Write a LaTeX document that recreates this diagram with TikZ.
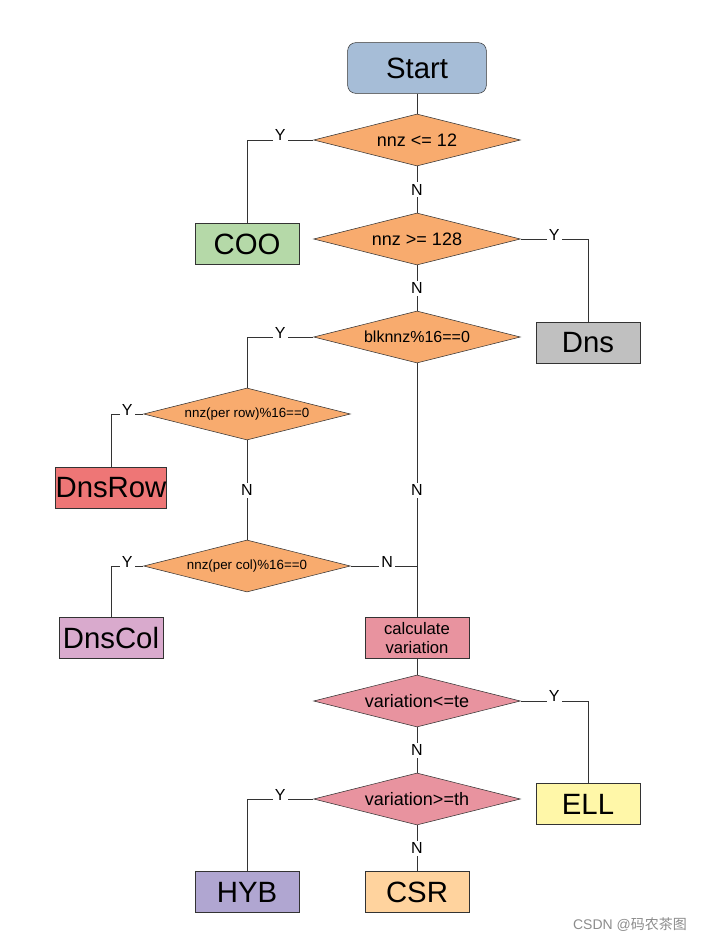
\documentclass[tikz,border=0pt]{standalone}
\usepackage{fontspec}
\setmainfont{Liberation Sans}
\newfontfamily\cjkfont{Noto Sans CJK SC}
\usetikzlibrary{shapes.geometric}
\definecolor{startblue}{HTML}{A6BDD7}
\definecolor{decorange}{HTML}{F8AB6E}
\definecolor{decpink}{HTML}{E8939F}
\definecolor{coogreen}{HTML}{B5D9A8}
\definecolor{dnsgray}{HTML}{C0C0C0}
\definecolor{rowred}{HTML}{EE7676}
\definecolor{colviolet}{HTML}{D9AACD}
\definecolor{ellyellow}{HTML}{FFF7A8}
\definecolor{hybpurple}{HTML}{B0A6D1}
\definecolor{csrpeach}{HTML}{FFD39E}
\tikzset{
	decision/.style = {diamond, draw=black!80, inner sep=0pt, aspect=4, minimum width=155pt, minimum height=39pt, font=\fontsize{13.5}{15}\selectfont},
	smalldec/.style = {decision, font=\fontsize{10}{12}\selectfont},
	format/.style = {rectangle, draw=black!80, minimum width=78pt, minimum height=31pt, inner sep=0pt, font=\fontsize{22}{24}\selectfont},
	process/.style = {format, align=center, font=\fontsize{12.5}{14}\selectfont},
	answer/.style = {fill=white, inner sep=1.5pt, font=\fontsize{12}{14}\selectfont},
	link/.style = {draw=black!80, line width=0.6pt}
}
\begin{document}
\begin{tikzpicture}[x=0.75pt, y=-0.75pt]
	\useasboundingbox (0,0) rectangle (714,943);
	% boxes and decisions
	\node [format, rounded corners=6pt, fill=startblue, minimum width=104pt, minimum height=38pt] (start) at (417,68) {Start};
	\node [decision, fill=decorange] (few) at (417,140) {nnz <= 12};
	\node [format, fill=coogreen] (coo) at (247,244) {COO};
	\node [decision, fill=decorange] (many) at (417,239) {nnz >= 128};
	\node [format, fill=dnsgray] (dns) at (588,343) {Dns};
	\node [decision, fill=decorange, font=\fontsize{12}{14}\selectfont] (blk) at (417,337) {blknnz\%16==0};
	\node [smalldec, fill=decorange] (row) at (247,414) {nnz(per row)\%16==0};
	\node [format, fill=rowred] (dnsrow) at (111,488) {DnsRow};
	\node [smalldec, fill=decorange] (col) at (247,566) {nnz(per col)\%16==0};
	\node [format, fill=colviolet] (dnscol) at (111,638) {DnsCol};
	\node [process, fill=decpink] (calc) at (417,638) {calculate\\variation};
	\node [decision, fill=decpink] (te) at (417,701) {variation<=te};
	\node [format, fill=ellyellow] (ell) at (588,804) {ELL};
	\node [decision, fill=decpink] (th) at (417,799) {variation>=th};
	\node [format, fill=hybpurple] (hyb) at (247,892) {HYB};
	\node [format, fill=csrpeach] (csr) at (417,892) {CSR};
	\coordinate (join) at (417,566);
	% connectors
	\draw [link] (start) -- (few);
	\draw [link] (few.west) -| (coo.north) node [answer, pos=0.25, yshift=4pt] {Y};
	\draw [link] (few) -- (many) node [answer, midway] {N};
	\draw [link] (many.east) -| (dns.north) node [answer, pos=0.25, yshift=3pt] {Y};
	\draw [link] (many) -- (blk) node [answer, midway] {N};
	\draw [link] (blk.west) -| (row.north) node [answer, pos=0.25, yshift=3pt] {Y};
	\draw [link] (row.west) -| (dnsrow.north) node [answer, pos=0.25, yshift=3pt] {Y};
	\draw [link] (row) -- (col) node [answer, midway] {N};
	\draw [link] (blk) -- (calc) node [answer, pos=0.5] {N};
	\draw [link] (col.east) -- (join) node [answer, pos=0.55, yshift=3pt] {N};
	\draw [link] (col.west) -| (dnscol.north) node [answer, pos=0.25, yshift=3pt] {Y};
	\draw [link] (calc) -- (te);
	\draw [link] (te.east) -| (ell.north) node [answer, pos=0.25, yshift=4pt] {Y};
	\draw [link] (te) -- (th) node [answer, midway] {N};
	\draw [link] (th.west) -| (hyb.north) node [answer, pos=0.25, yshift=3pt] {Y};
	\draw [link] (th) -- (csr) node [answer, midway] {N};
	% watermark
	\node [text=black!45, font=\fontsize{10.5}{12}\selectfont] (mark) at (630,925) {CSDN @{\cjkfont 码农茶图}};
\end{tikzpicture}
\end{document}
